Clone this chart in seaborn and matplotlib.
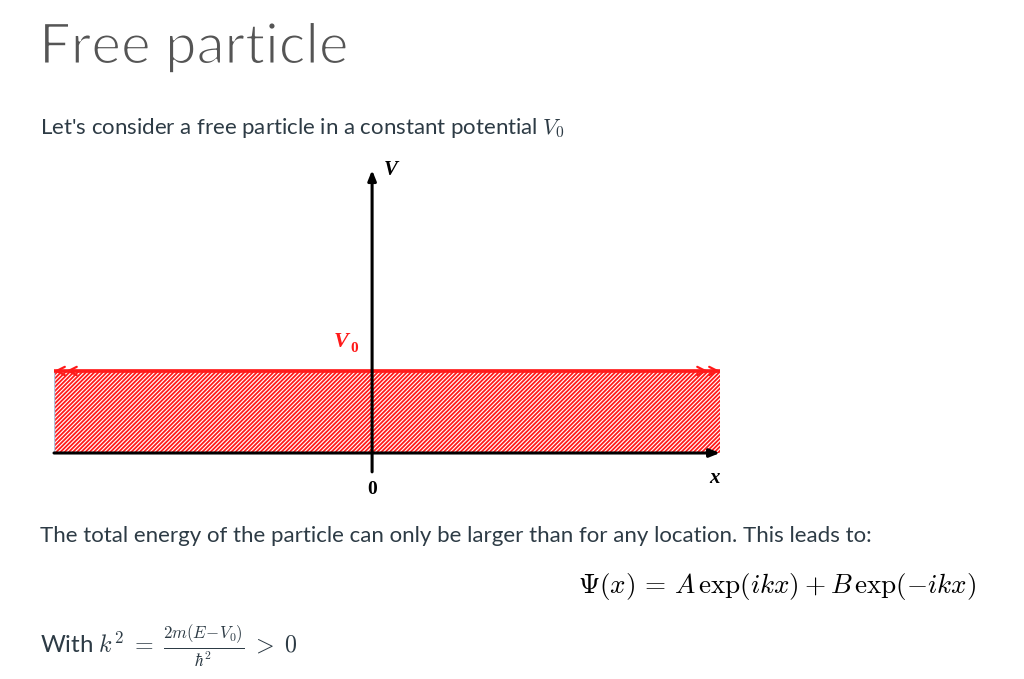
import matplotlib
matplotlib.use("Agg")
import matplotlib.pyplot as plt
import matplotlib.patheffects as pe
import seaborn as sns

# step potential: constant V0 over the whole x range shown
x_extent = [-3.2, 3.5]
V0 = 1.0
v_axis = [-0.23, 3.45]

title = "Free particle"
intro = r"Let's consider a free particle in a constant potential $V_0$"
energy_text = "The total energy of the particle can only be larger than for any location. This leads to:"
psi_eq = r"$\Psi(x)\,=\,A\,\exp(ikx) + B\,\exp(-ikx)$"
k_eq = r"With $k^2\;=\;\frac{2m(E\!-\!V_0)}{\hbar^2}\;>\;0$"

sns.set_theme(style="white")
plt.rcParams["font.family"] = ["Lato", "DejaVu Sans"]
plt.rcParams["mathtext.fontset"] = "cm"
plt.rcParams["hatch.linewidth"] = 1.3

W, H = 1024, 679
fig = plt.figure(figsize=(W / 100, H / 100), dpi=100)
fig.patch.set_facecolor("white")

text_col = "#2d3b45"
# no Lato Light installed: erode the regular weight with a white outline on top
fig.text(39 / W, 1 - 48 / H, title, fontsize=40.5, color="#555555",
         fontweight="normal", va="center", ha="left",
         path_effects=[pe.Normal(),
                       pe.Stroke(linewidth=1.4, foreground="white")])
fig.text(40 / W, 1 - 128 / H, intro, fontsize=16, color=text_col,
         va="center", ha="left")
fig.text(40 / W, 1 - 536 / H, energy_text, fontsize=16, color=text_col,
         va="center", ha="left")
fig.text(976 / W, 1 - 587 / H, psi_eq, fontsize=19.5, color="black",
         va="center", ha="right")
fig.text(40 / W, 1 - 646 / H, k_eq, fontsize=17.3, color=text_col,
         va="center", ha="left")

# diagram axes: x -3.2..3.5 -> px 54..720, y 0..1 -> px 453..371
ylim = (-0.5, 3.6)
py = 82
ax_bottom = 453 + (-ylim[0]) * py
ax_h = (ylim[1] - ylim[0]) * py
ax = fig.add_axes([54 / W, 1 - ax_bottom / H, 666 / W, ax_h / H])
ax.set_xlim(x_extent)
ax.set_ylim(ylim)
ax.axis("off")

ax.fill_between(x_extent, 0, V0, facecolor="white", edgecolor="#ff1a1a",
                hatch="////////", linewidth=0, zorder=1)
ax.plot([x_extent[0], x_extent[0]], [0, V0], color="#b0c4de", lw=1, zorder=1)
sns.lineplot(x=x_extent, y=[V0, V0], color="#ff1a1a", lw=2.6, ax=ax, zorder=3)

red_arrow = dict(arrowstyle="<->,head_length=0.5,head_width=0.25",
                 color="#ff1a1a", lw=1.6, shrinkA=0, shrinkB=0)
ax.annotate("", xy=(x_extent[1], V0), xytext=(x_extent[0], V0),
            arrowprops=red_arrow, zorder=4)
ax.annotate("", xy=(x_extent[1] - 0.12, V0), xytext=(x_extent[0] + 0.12, V0),
            arrowprops=red_arrow, zorder=4)

# axes arrows
ax.annotate("", xy=(x_extent[1], 0), xytext=(x_extent[0], 0),
            arrowprops=dict(arrowstyle="-|>,head_length=0.5,head_width=0.2",
                            color="black", lw=2.2, shrinkA=0, shrinkB=0),
            zorder=5)
ax.annotate("", xy=(0, v_axis[1]), xytext=(0, v_axis[0]),
            arrowprops=dict(arrowstyle="-|>,head_length=0.5,head_width=0.2",
                            color="black", lw=2.2, shrinkA=0, shrinkB=0),
            zorder=5)

serif = ["Liberation Serif", "DejaVu Serif"]
ax.text(0.12, v_axis[1], "V", family=serif, style="italic", fontweight="bold",
        fontsize=15, ha="left", va="center", color="black")
ax.text(x_extent[1], -0.3, "x", family=serif, style="italic", fontweight="bold",
        fontsize=15, ha="right", va="center", color="black")
ax.text(0, -0.45, "0", family=serif, fontweight="bold",
        fontsize=14, ha="center", va="center", color="black")
ax.text(-0.39, V0 + 0.35, "V", family=serif, style="italic", fontweight="bold",
        fontsize=16, ha="left", va="center", color="#ff1a1a")
ax.text(-0.22, V0 + 0.28, "0", family=serif, fontweight="bold",
        fontsize=11, ha="left", va="center", color="#ff1a1a")

fig.savefig("out.png", dpi=100, facecolor="white")
